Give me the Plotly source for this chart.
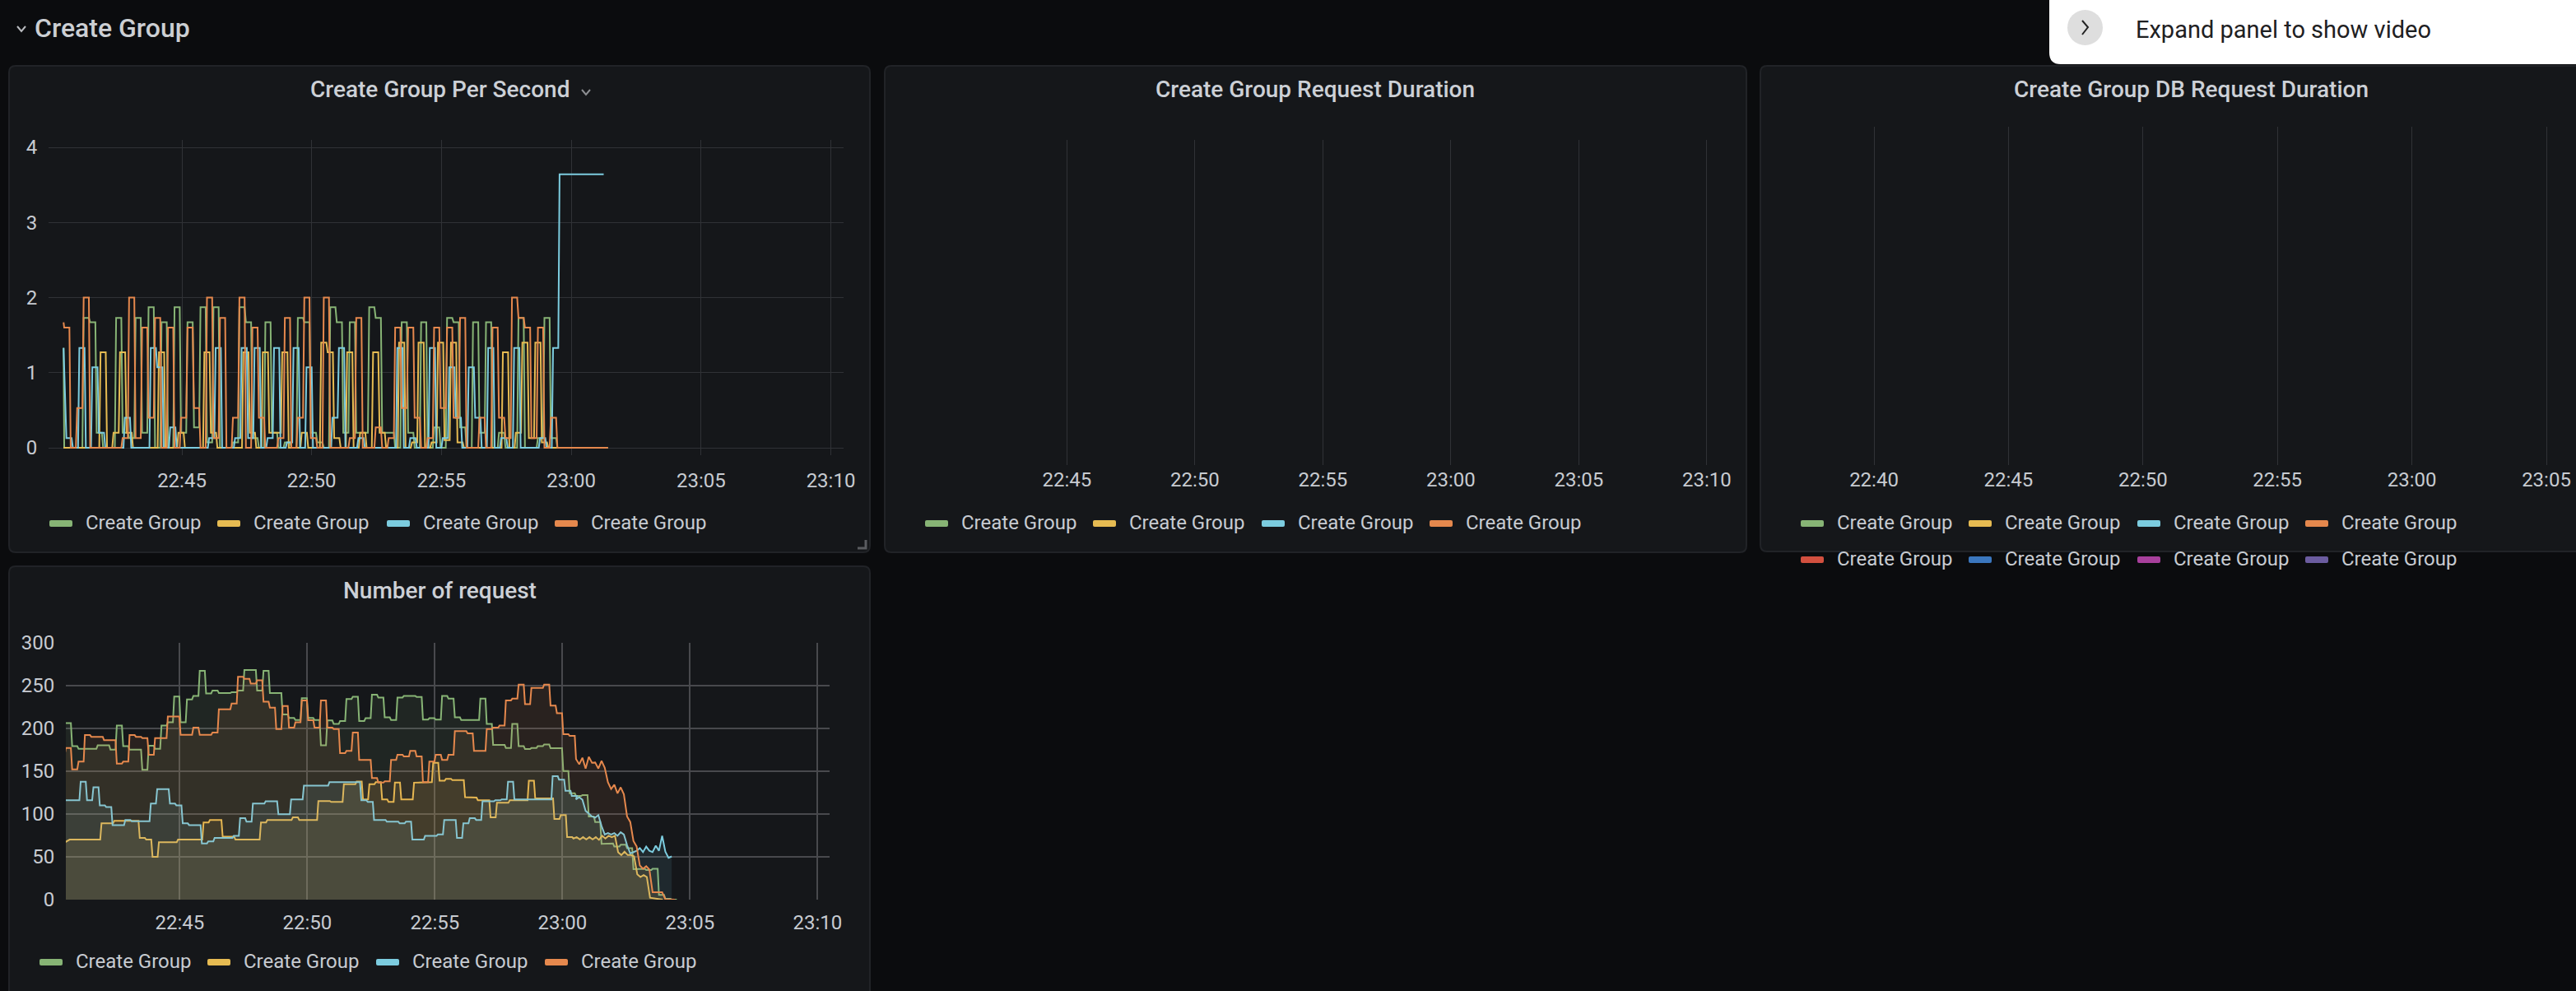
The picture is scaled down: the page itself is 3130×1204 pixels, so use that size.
from datetime import datetime, timedelta
import plotly.graph_objects as go

W, H = 3130, 1204
DAY = "2023-01-01 "
TICKS_A = ["22:45", "22:50", "22:55", "23:00", "23:05", "23:10"]
TICKS_B = ["22:40", "22:45", "22:50", "22:55", "23:00", "23:05"]
SERIES_NAME = "Create Group"

# Create Group Per Second: one value per 15 s scrape
RATE_GREEN = [0,0,0,1.73,1.67,0.2,0,0,1.73,0.2,0.13,1.73,0.2,1.87,0,1.67,0,1.87,0.2,1.67,0.27,1.87,0.07,1.87,0,0,0.07,1.87,1.67,0.13,0,1.67,0.2,0,0.07,0,1.73,1.67,0.2,0.07,0,1.87,1.67,0.2,1.67,0.2,0.2,1.87,1.73,0.2,0.2,0,1.67,0.2,0,1.67,0,0.27,0,1.73,1.67,0.27,0,1.67,0.2,1.67,0,0.2,0,0,1.73,0,0,0.13,1.73,0.13,0,0,0,0,0,0,0,0]
RATE_YELLOW = [0,0,0,0,0,1.27,0,0.2,1.27,0.2,0,0,0,0,1.27,0,0,0.2,0,0,0,1.27,0.2,0,0,0,0,1.27,0.2,0,1.27,0.2,0.2,1.27,0,0,0.2,0,0,1.4,1.27,0.13,0,1.27,0,0.2,0,1.27,0.2,0,0,1.4,0,0.07,1.4,0,0.07,1.4,0.1,1.4,0.07,0,0,0,0,0,0,1.27,0,0.2,1.4,0.13,1.4,0.07,0,0,0,0,0,0,0,0,0]
RATE_CYAN = [0.13,0,1.33,0,1.07,0.2,0,0,0,0.4,0,0,0,1.33,1.07,0,0.27,0,0,0,0,0,0.13,1.33,0,0,0.13,1.33,0.13,1.33,0,0.13,1.33,0,0.07,1.33,0,1.07,0,0,0,0.4,1.33,0,0,0.13,0,0,0,0,0,1.33,0,0.13,0,0,1.33,0,0.13,1.07,0.4,0,1.07,0.4,0,1.33,0,0.13,0,1.33,0,0,0,0.13,0,1.33,3.64,3.64,3.64,3.64,3.64,3.64,3.64]
RATE_ORANGE = [1.6,0,0.53,2.0,0,0,0,0,0,0.13,2.0,0.13,1.6,0.4,1.73,0,1.6,0,0.4,1.6,0.53,0,2.0,0.13,1.73,0,0.4,2.0,0,1.6,0.4,0,0,0.13,1.73,0,0.4,2.0,0.13,0,2.0,0,0,0,0.13,1.73,0,0,0.27,0,0.13,1.6,0.53,1.6,0.4,0,0.13,1.6,0.53,1.6,0.4,1.73,0,0,0.4,0,1.6,0.4,0.13,2.0,1.73,1.6,0.13,1.6,0,0.4,0,0,0,0,0,0,0,0]
RATE_FIRST = {"green": 1.33, "yellow": 0, "cyan": 1.33, "orange": 1.67}

# Number of request: one value per 15 s, then a faster tail where it zig-zags
REQ_GREEN = [206,179,176,176,176,180,180,175,203,179,175,175,151.6,179.5,176,203,207,237,207,233.5,237.7,267,240.6,244,241,241,242,244,268,268,244,267,241,241,216,212,209.5,235,212,209.5,180,209,205,208.5,234,236.7,208.5,211.7,239,235.8,212.6,209.5,235.8,237.7,237.7,236.4,210,211.7,210,237.7,234.5,212.6,209.5,209.5,209.5,234.5,205,180.5,180.5,177,205,179,175.7,177,179,181,176.7,176.7,150,124,121,122,97,90.6,65,65.5,62,64,60,35.6,36,34.5,36,5.5,1,0]
REQ_YELLOW = [70,70,70,70,70,89,89,92,92,92,92,72,70,50,67,67,67,70,70,70,70,90,93,93,73.5,73.5,70,70,70,70,90,93,93,93,93,96,93,93,93,115,115,114,114,134.6,134.6,137.8,117,134.6,137,117,114,136.5,117,117,136.5,136.5,137,159.6,138.7,141,139.4,139.4,119.5,119,116,116,96,113,113,116,116,116,138.7,118,118,118,94,98.6,73]
REQ_YELLOW_TAIL = [71.3,72.9,70.3,72.9,70.3,72.9,70.3,72.9,69.7,74.5,71.3,74.5,72.9,74.5,55.2,52,55.9,52,52,50.4,29.5,26.3,28.6,26.3,2.2,1.6,0.6,0.6,0]
REQ_CYAN = [116,116,137.5,116,131,110,108,87,87,93,91.5,91.5,91.5,112,129,129,112,110,89,87,87,65.5,68,72,72,72,74.5,95,91,112,112,114.7,114.7,99.6,99.6,117,117,133,133,133,133,137,137,137,137,137,116,114,93,93,91,91,89,91,70,70,74.5,74.5,76,93,93,72,89,95,93,114.7,114.7,116,117,137.5,117,117,117,117,117,117,144,140,127,121]
REQ_CYAN_TAIL = [117,119.6,116.5,103.6,100.4,97,95.7,98.6,85.8,76,77.7,76,77.7,74.5,78.6,76,63.6,53.9,55.5,57,60.1,55.5,61.9,57,55.5,62.9,57,74.5,56,48.8,50.4]
REQ_ORANGE = [177,152,161,192,190,190,186,186,158.7,161,192,190,188.5,169,188.5,188.5,213.6,213.6,192.4,192.4,200.7,192.4,192.4,195,222,222,228.7,260,257.6,252,256,231,224,199,226,200.7,207,232.5,209.4,200.7,232.5,200.7,199,171,173.5,195,163,163,142,136.5,138,163,169,167,173.5,167,137,161,169,163,169,196.6,196.6,194,173.5,173.5,199,200.7,203,232.5,234.5,251,228,247,247,251,226.5,217.5,193,191]
REQ_ORANGE_TAIL = [164,158,165.5,153,166.7,159.6,160,153,162,153.9,137,129,134,124,131,122.8,97,90.6,68.4,62,39.8,36,39,35,8.7,8.7,8.7,8.7,0.6,0.6,0,0]
REQ_FIRST = {"green": 206, "yellow": 67, "cyan": 116, "orange": 172}

GREEN, YELLOW, CYAN, ORANGE = "#87B475", "#E6BB52", "#7CCCDF", "#E5884D"
RED, BLUE, PURPLE, VIOLET = "#D2503F", "#3B77BE", "#A8409C", "#6B5C9F"
PALETTE4 = [GREEN, YELLOW, CYAN, ORANGE]
PALETTE8 = PALETTE4 + [RED, BLUE, PURPLE, VIOLET]
PAGE_BG, PANEL_BG, PANEL_EDGE = "#0B0C0E", "#15171A", "#212327"
TEXT, TITLE_TEXT = "#C7CBD1", "#CCD0D6"
FONT = "Roboto"


def X(px): return px / W
def Y(py): return 1 - py / H
def clock(s): return datetime.strptime(DAY + s, "%Y-%m-%d %H:%M:%S")
def tick_dates(labels): return [clock(t + ":00") for t in labels]


def px_range(ref_label, ref_px, px_per_5min, left, right):
    ref = clock(ref_label + ":00")
    sec = 300.0 / px_per_5min
    return [ref + timedelta(seconds=(left - ref_px) * sec), ref + timedelta(seconds=(right - ref_px) * sec)]


def build(start, first, values, offset, tail=None, tail_index=None, tail_offset=0.0, hold=12.0, tail_step=7.5):
    """Each scrape value holds for `hold` seconds, then moves to the next."""
    xs, ys = [], []
    if first is not None:
        xs.append(start - timedelta(seconds=1.5)); ys.append(first)
    for i, v in enumerate(values):
        t = start + timedelta(seconds=offset + 15 * i)
        xs += [t, t + timedelta(seconds=hold)]
        ys += [v, v]
    if tail:
        for j, v in enumerate(tail):
            xs.append(start + timedelta(seconds=tail_offset + 15 * tail_index + tail_step * j))
            ys.append(v)
    return xs, ys


def rgba(hex_color, a):
    r, g, b = (int(hex_color[i:i + 2], 16) for i in (1, 3, 5))
    return f"rgba({r},{g},{b},{a})"


fig = go.Figure()

# Panel 1
t_rate = clock("22:40:28")
for name_key, color, vals, off in [("green", GREEN, RATE_GREEN, 0), ("yellow", YELLOW, RATE_YELLOW, 9),
                                   ("cyan", CYAN, RATE_CYAN, 5), ("orange", ORANGE, RATE_ORANGE, 0)]:
    xs, ys = build(t_rate, RATE_FIRST[name_key], vals, off)
    fig.add_trace(go.Scatter(x=xs, y=ys, mode="lines", name=SERIES_NAME, xaxis="x", yaxis="y",
                             line=dict(color=color, width=2), showlegend=False, hoverinfo="skip"))

# Panels 2 and 3 have no data, only their series names
for c in PALETTE4:
    fig.add_trace(go.Scatter(x=[], y=[], mode="lines", name=SERIES_NAME, xaxis="x2", yaxis="y2",
                             line=dict(color=c, width=2), showlegend=False))
for c in PALETTE8:
    fig.add_trace(go.Scatter(x=[], y=[], mode="lines", name=SERIES_NAME, xaxis="x3", yaxis="y3",
                             line=dict(color=c, width=2), showlegend=False))

# Panel 4
t_req = clock("22:40:32")
req_defs = [
    ("green", GREEN, REQ_GREEN, 0, None, None, 0),
    ("yellow", YELLOW, REQ_YELLOW, 9, REQ_YELLOW_TAIL, 79, 9),
    ("cyan", CYAN, REQ_CYAN, 5, REQ_CYAN_TAIL, 80, 0),
    ("orange", ORANGE, REQ_ORANGE, 0, REQ_ORANGE_TAIL, 80, 0),
]
for key, color, vals, off, tail, ti, to in req_defs:
    xs, ys = build(t_req, REQ_FIRST[key], vals, off, tail, ti, to)
    fig.add_trace(go.Scatter(x=xs, y=ys, mode="lines", name=SERIES_NAME, xaxis="x4", yaxis="y4",
                             line=dict(color=color, width=2), fill="tozeroy", fillcolor=rgba(color, 0.1),
                             showlegend=False, hoverinfo="skip"))

FAINT = "#303236"
BRIGHT = "#48494D"


def xaxis(left, right, rng, ticks, anchor, grid, gw, ticklen, standoff=0):
    return dict(domain=[X(left), X(right)], type="date", range=rng, anchor=anchor, automargin=False,
                tickmode="array", tickvals=tick_dates(ticks), ticktext=ticks,
                showgrid=True, gridcolor=grid, gridwidth=gw, showline=False, zeroline=False,
                ticks="outside", ticklen=ticklen, tickcolor="rgba(0,0,0,0)", ticklabelstandoff=standoff,
                tickfont=dict(family=FONT, size=24, color=TEXT))


def yaxis(top, bottom, rng, vals, anchor, grid, gw, visible=True):
    return dict(domain=[Y(bottom), Y(top)], range=rng, anchor=anchor, visible=visible, automargin=False,
                tickmode="array", tickvals=vals, showgrid=visible, gridcolor=grid, gridwidth=gw,
                showline=False, zeroline=False, ticks="outside", ticklen=8, tickcolor="rgba(0,0,0,0)",
                tickfont=dict(family=FONT, size=24, color=TEXT))


layout = dict(
    width=W, height=H, autosize=False, margin=dict(l=0, r=0, t=0, b=0, pad=0),
    paper_bgcolor=PAGE_BG, plot_bgcolor="rgba(0,0,0,0)", showlegend=False,
    xaxis=xaxis(59, 1025, px_range("22:45", 221, 157.7, 59, 1025), TICKS_A, "y", FAINT, 1, 9),
    yaxis=yaxis(170, 553, [-9 / 91.25, 4 + 9 / 91.25], [0, 1, 2, 3, 4], "x", FAINT, 1),
    xaxis2=xaxis(1085, 2110, px_range("22:45", 1296.4, 155.5, 1085, 2110), TICKS_A, "y2", FAINT, 1, 0, -4),
    yaxis2=yaxis(170, 565, [0, 1], [], "x2", FAINT, 1, visible=False),
    xaxis3=xaxis(2150, 3130, px_range("22:40", 2277, 163.4, 2150, 3130), TICKS_B, "y3", FAINT, 1, 0, -4),
    yaxis3=yaxis(154, 565, [0, 1], [], "x3", FAINT, 1, visible=False),
    xaxis4=xaxis(80, 1008, px_range("22:45", 218.4, 155, 80, 1008), TICKS_A, "y4", BRIGHT, 2, 6),
    yaxis4=yaxis(780.6, 1093, [0, 300], [0, 50, 100, 150, 200, 250, 300], "x4", BRIGHT, 2),
)

# Panel frames, legends, chrome
shapes, notes = [], []


def rounded(x0, y0, x1, y1, tl=8, tr=8, br=8, bl=8):
    p = f"M{X(x0 + tl)},{Y(y0)} L{X(x1 - tr)},{Y(y0)} Q{X(x1)},{Y(y0)} {X(x1)},{Y(y0 + tr)} "
    p += f"L{X(x1)},{Y(y1 - br)} Q{X(x1)},{Y(y1)} {X(x1 - br)},{Y(y1)} "
    p += f"L{X(x0 + bl)},{Y(y1)} Q{X(x0)},{Y(y1)} {X(x0)},{Y(y1 - bl)} "
    p += f"L{X(x0)},{Y(y0 + tl)} Q{X(x0)},{Y(y0)} {X(x0 + tl)},{Y(y0)} Z"
    return p


def poly(points):
    return "M" + " L".join(f"{X(a)},{Y(b)}" for a, b in points)


def shape_path(path, fill=None, line=None, lw=0, layer="below"):
    shapes.append(dict(type="path", xref="paper", yref="paper", path=path, layer=layer,
                       fillcolor=fill or "rgba(0,0,0,0)",
                       line=dict(color=line or "rgba(0,0,0,0)", width=lw)))


def text(s, x, y, size=24, color=TEXT, anchor="left", weight=400):
    notes.append(dict(text=s, x=X(x), y=Y(y), xref="paper", yref="paper", showarrow=False,
                      xanchor=anchor, yanchor="middle", align=anchor,
                      font=dict(family=FONT, size=size, color=color, weight=weight)))


for box in [(11, 80, 1057, 671), (1075, 80, 2122, 671), (2139, 80, 3170, 670), (11, 688, 1057, 1240)]:
    shape_path(rounded(*box), PANEL_BG, PANEL_EDGE, 2)

text("Create Group", 40, 34, 32, "#CCCFD3", "left", 500)
shape_path(poly([(21, 32), (26, 38), (31, 32)]), None, "#B9BBBF", 2)
text("Create Group Per Second", 534, 109, 28, TITLE_TEXT, "center", 500)
shape_path(poly([(707, 109), (712, 115), (717, 109)]), None, "#8C8E92", 2)
text("Create Group Request Duration", 1598, 109, 28, TITLE_TEXT, "center", 500)
text("Create Group DB Request Duration", 2662, 109, 28, TITLE_TEXT, "center", 500)
text("Number of request", 534, 717, 28, TITLE_TEXT, "center", 500)
shape_path(poly([(1052, 656), (1052, 666), (1042, 666)]), None, "#5A5C60", 3)


def legend(row_y, swatch_xs, colors):
    for sx, c in zip(swatch_xs, colors):
        shape_path(rounded(sx, row_y - 4, sx + 28, row_y + 4, 2, 2, 2, 2), c)
        text(SERIES_NAME, sx + 42, row_y - 1)


legend(636, [60, 264, 470, 674], PALETTE4)
legend(636, [1124, 1328, 1533, 1737], PALETTE4)
legend(636, [2188, 2392, 2597, 2801], PALETTE8[:4])
legend(680, [2188, 2392, 2597, 2801], PALETTE8[4:])
legend(1169, [48, 252, 457, 662], PALETTE4)

# Video pop-up at top right
shape_path(rounded(2490, -20, 3170, 78, 0, 0, 0, 14), "#FFFFFF", None, 0, "above")
shapes.append(dict(type="circle", xref="paper", yref="paper", layer="above", x0=X(2512), x1=X(2555), y0=Y(55), y1=Y(12),
                   fillcolor="#DEDEDE", line=dict(width=0)))
shape_path(poly([(2530, 25), (2537, 33), (2530, 42)]), None, "#222222", 2, "above")
text("Expand panel to show video", 2593, 36, 29, "#1E2022")

layout["shapes"] = shapes
layout["annotations"] = notes
fig.update_layout(**layout)
fig.write_html("out.html", config=dict(displayModeBar=False),
               post_script="document.body.style.margin='0';document.body.style.background='#0B0C0E';document.body.style.overflow='hidden';")
